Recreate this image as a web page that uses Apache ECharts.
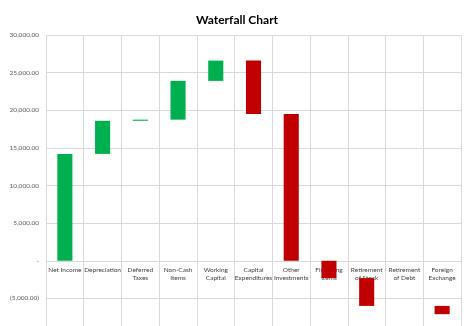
<!DOCTYPE html>
<html>
<head>
<meta charset="utf-8">
<script src="https://cdn.jsdelivr.net/npm/echarts@6/dist/echarts.min.js"></script>
<style>
  html, body { margin: 0; padding: 0; background: #fff; overflow: hidden; }
  #chart { width: 474px; height: 337px; }
</style>
</head>
<body>
<div id="chart"></div>
<script>
// Cash-flow steps, in order
const categories = [
  'Net Income', 'Depreciation', 'Deferred\nTaxes', 'Non-Cash\nItems', 'Working\nCapital',
  'Capital\nExpenditures', 'Other\nInvestments', 'Financing\nItems', 'Retirement\nof Stock',
  'Retirement\nof Debt', 'Foreign\nExchange'
];
// Change contributed by each step
const changes = [14200, 4400, 150, 5150, 2700, -7100, -19500, -2300, -3700, 0, -1100];
// Value axis ticks
const yMin = -10000, yMax = 30000, yStep = 5000;

const GREEN = '#00B050', RED = '#C00000';

// Running totals -> invisible base + visible step (stacked by sign)
const base = [], step = [];
let total = 0;
changes.forEach(function (d) {
  const start = total, end = total + d;
  total = end;
  const lo = Math.min(start, end), hi = Math.max(start, end);
  const color = d >= 0 ? GREEN : RED;
  if (lo >= 0) {
    base.push(lo);
    step.push({ value: hi - lo, itemStyle: { color: color } });
  } else {
    base.push(hi);
    step.push({ value: lo - hi, itemStyle: { color: color } });
  }
});

function fmtY(v) {
  if (v === 0) return '-';
  const s = Math.abs(v).toLocaleString('en-US', { minimumFractionDigits: 2, maximumFractionDigits: 2 });
  return v < 0 ? '(' + s + ')' : s;
}

const W = 474, H = 337;
const GRID = { left: 46, right: 13, top: 35, bottom: 1 };
// Lift the category axis from the plot bottom up to the zero line
const plotH = H - GRID.top - GRID.bottom;
const zeroLift = plotH * (0 - yMin) / (yMax - yMin);

const chart = echarts.init(document.getElementById('chart'), null, { renderer: 'canvas', width: W, height: H });
chart.setOption({
  animation: false,
  title: {
    text: 'Waterfall Chart',
    left: 'center',
    top: 9,
    textStyle: { fontFamily: 'Lato', fontWeight: 'bold', fontSize: 12, color: '#000' }
  },
  grid: Object.assign({ outerBoundsMode: 'none', containLabel: false }, GRID),
  xAxis: {
    type: 'category',
    data: categories,
    offset: -zeroLift,
    axisLine: { show: false, onZero: false },
    axisTick: { show: false },
    splitLine: { show: true, interval: 0, lineStyle: { color: '#D9D9D9' } },
    axisLabel: {
      interval: 0, fontFamily: 'Lato', fontSize: 6.5, color: '#404040',
      lineHeight: 8, margin: 5
    }
  },
  yAxis: {
    type: 'value',
    min: yMin, max: yMax, interval: yStep,
    axisLine: { show: false },
    axisTick: { show: false },
    splitLine: { lineStyle: { color: '#D9D9D9' } },
    axisLabel: { formatter: fmtY, fontFamily: 'Lato', fontSize: 6.5, color: '#595959', margin: 7 }
  },
  series: [
    {
      type: 'bar', stack: 'wf', data: base, barWidth: '40%',
      itemStyle: { color: 'rgba(0,0,0,0)' }, silent: true
    },
    {
      type: 'bar', stack: 'wf', data: step, barWidth: '40%', z: 3
    }
  ]
});
</script>
</body>
</html>
